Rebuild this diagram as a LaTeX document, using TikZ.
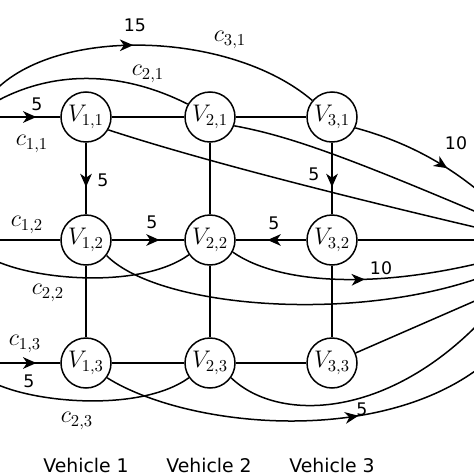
\documentclass[tikz,border=0pt]{standalone}
\usepackage{fontspec}
\newfontfamily\dv{DejaVu Sans}
\usetikzlibrary{arrows.meta,decorations.markings}
\begin{document}
\begin{tikzpicture}[x=0.6pt,y=-0.6pt,
  vert/.style={circle, draw, line width=0.9pt, minimum size=30pt, inner sep=0pt, font=\fontsize{14}{16}\selectfont},
  conn/.style={line width=0.9pt},
  num/.style={font=\dv\fontsize{10.4}{12}\selectfont, inner sep=0pt},
  clab/.style={font=\fontsize{14}{16}\selectfont, inner sep=0pt},
  veh/.style={font=\dv\fontsize{11.3}{13}\selectfont, anchor=base, inner sep=0pt},
  arr/.style={postaction={decorate}, decoration={markings, mark=at position #1 with {\arrow{Stealth[length=8pt,width=7pt,inset=2.4pt]}}}}]
\useasboundingbox (0,0) rectangle (474,474);
\clip (0,0) rectangle (474,474);

% vertices
\node[vert] (V11) at (86,117) {$V_{1,1}$};
\node[vert] (V21) at (210,117) {$V_{2,1}$};
\node[vert] (V31) at (332,117) {$V_{3,1}$};
\node[vert] (V12) at (86,240) {$V_{1,2}$};
\node[vert] (V22) at (210,240) {$V_{2,2}$};
\node[vert] (V32) at (332,240) {$V_{3,2}$};
\node[vert] (V13) at (86,363) {$V_{1,3}$};
\node[vert] (V23) at (210,363) {$V_{2,3}$};
\node[vert] (V33) at (332,363) {$V_{3,3}$};

% free ends
\coordinate (L1) at (-10,96);
\coordinate (L2) at (-10,105);
\coordinate (L3) at (-10,117);
\coordinate (L4) at (-10,240);
\coordinate (L5) at (-10,258);
\coordinate (L6) at (-10,363);
\coordinate (L7) at (-10,381);
\coordinate (R1) at (500,210);
\coordinate (R2) at (500,222);
\coordinate (R3) at (500,233);
\coordinate (R4) at (500,240);
\coordinate (R5) at (500,258);
\coordinate (R6) at (500,270);
\coordinate (R7) at (500,290);
\coordinate (R8) at (500,300);
\coordinate (R9) at (500,350);

% left connectors
\draw[conn, arr=0.45] (L1) .. controls (50,25) and (230,30) .. (V31.140);
\draw[conn] (L2) .. controls (40,75) and (110,65) .. (V21.150);
\draw[conn, arr=0.66] (L3) -- (V11);
\draw[conn] (L4) -- (V12);
\draw[conn] (L5) .. controls (30,280) and (140,290) .. (V22.215);
\draw[conn, arr=0.66] (L6) -- (V13);
\draw[conn] (L7) .. controls (30,403) and (140,413) .. (V23.215);

% grid
\draw[conn] (V11) -- (V21);
\draw[conn] (V21) -- (V31);
\draw[conn, arr=0.62] (V11) -- (V12);
\draw[conn] (V21) -- (V22);
\draw[conn, arr=0.62] (V31) -- (V32);
\draw[conn, arr=0.66] (V12) -- (V22);
\draw[conn, arr=0.55] (V32) -- (V22);
\draw[conn] (V12) -- (V13);
\draw[conn] (V22) -- (V23);
\draw[conn] (V32) -- (V33);
\draw[conn] (V13) -- (V23);
\draw[conn] (V23) -- (V33);

% right connectors
\draw[conn, arr=0.6] (V31.-25) .. controls (400,140) and (450,162) .. (R1);
\draw[conn] (V21.-20) .. controls (290,136) and (350,158) .. (R2);
\draw[conn] (V11.-30) .. controls (200,160) and (350,198) .. (R3);
\draw[conn] (V32) -- (R4);
\draw[conn, arr=0.5] (V22.-28) .. controls (280,285) and (380,290) .. (R5);
\draw[conn] (V12.-37) .. controls (160,310) and (370,325) .. (R6);
\draw[conn] (V33.23) -- (R7);
\draw[conn] (V23.-35) .. controls (280,425) and (400,420) .. (R8);
\draw[conn, arr=0.62] (V13.-35) .. controls (190,430) and (400,450) .. (R9);

% labels
\node[num] (n15) at (135,25) {15};
\node[clab] (c31) at (230,40) {$c_{3,1}$};
\node[clab] (c21) at (148,74) {$c_{2,1}$};
\node[num] (n5a) at (37,104) {5};
\node[clab] (c11) at (32,144) {$c_{1,1}$};
\node[num] (n5b) at (103,180) {5};
\node[clab] (c12) at (27,225) {$c_{1,2}$};
\node[num] (n5c) at (152,222) {5};
\node[clab] (c22) at (48,293) {$c_{2,2}$};
\node[num] (n5d) at (314,174) {5};
\node[num] (n5e) at (274,223) {5};
\node[num] (n10a) at (381,268) {10};
\node[num] (n10b) at (456,143) {10};
\node[clab] (c13) at (25,344) {$c_{1,3}$};
\node[num] (n5f) at (29,381) {5};
\node[clab] (c23) at (77,421) {$c_{2,3}$};
\node[num] (n5g) at (362,409) {5};

\node[veh] (veh1) at (86,472) {Vehicle 1};
\node[veh] (veh2) at (209,472) {Vehicle 2};
\node[veh] (veh3) at (332,472) {Vehicle 3};
\end{tikzpicture}
\end{document}
